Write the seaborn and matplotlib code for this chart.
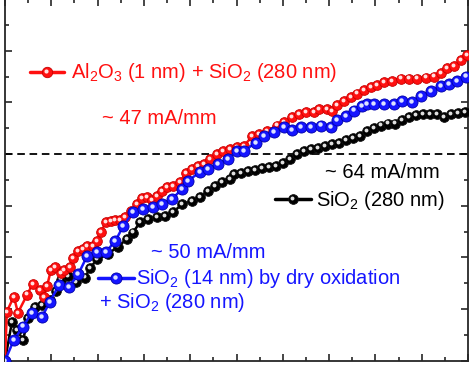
import numpy as np
import pandas as pd
import matplotlib
matplotlib.use("Agg")
import matplotlib.pyplot as plt
import seaborn as sns
from matplotlib.lines import Line2D
from matplotlib.transforms import offset_copy

# --- data (x in major-tick units, y in major-tick units) ---
red_x = [0.0, 0.04, 0.19, 0.28, 0.48, 0.60, 0.76, 0.84, 0.91, 0.99, 1.08, 1.21, 1.27, 1.40, 1.47,
         1.58, 1.69, 1.77, 1.90, 1.99, 2.07, 2.18, 2.29, 2.38, 2.48, 2.59, 2.72, 2.85, 2.96, 3.07,
         3.18, 3.28, 3.39, 3.50, 3.63, 3.78, 3.91, 4.04, 4.17, 4.30, 4.43, 4.58, 4.71, 4.86, 5.01,
         5.16, 5.34, 5.49, 5.66, 5.88, 6.03, 6.20, 6.35, 6.50, 6.67, 6.78, 6.95, 7.06, 7.17, 7.32,
         7.47, 7.60, 7.75, 7.91, 8.04, 8.19, 8.36, 8.55, 8.73, 8.90, 9.09, 9.27, 9.42, 9.55, 9.70,
         9.85, 9.98]
red_y = [0.0, 0.95, 1.24, 0.93, 1.28, 1.49, 1.37, 1.24, 1.45, 1.75, 1.81, 1.69, 1.76, 1.81, 1.98,
         2.12, 2.16, 2.22, 2.22, 2.32, 2.49, 2.68, 2.70, 2.72, 2.72, 2.78, 2.89, 3.03, 3.14, 3.16,
         3.11, 3.19, 3.28, 3.36, 3.38, 3.46, 3.63, 3.71, 3.77, 3.81, 3.91, 4.00, 4.06, 4.10, 4.14,
         4.16, 4.34, 4.39, 4.45, 4.55, 4.62, 4.72, 4.78, 4.82, 4.82, 4.87, 4.87, 4.83, 4.94, 5.03,
         5.11, 5.17, 5.23, 5.29, 5.34, 5.40, 5.42, 5.46, 5.46, 5.46, 5.48, 5.50, 5.56, 5.66, 5.71,
         5.81, 5.91]

blue_x = [0.0, 0.19, 0.39, 0.58, 0.80, 0.97, 1.17, 1.38, 1.58, 1.77, 1.99, 2.18, 2.38, 2.55, 2.76,
          2.98, 3.20, 3.39, 3.61, 3.82, 3.95, 4.21, 4.38, 4.60, 4.82, 5.01, 5.16, 5.42, 5.59, 5.81,
          6.03, 6.20, 6.39, 6.61, 6.83, 7.04, 7.17, 7.37, 7.54, 7.71, 7.82, 7.97, 8.19, 8.40, 8.57,
          8.79, 8.98, 9.20, 9.42, 9.59, 9.76, 9.96]
blue_y = [0.0, 0.40, 0.66, 0.93, 0.85, 1.14, 1.47, 1.43, 1.67, 2.02, 2.10, 2.11, 2.31, 2.60, 2.87,
          2.93, 2.97, 3.03, 3.13, 3.32, 3.48, 3.65, 3.71, 3.81, 3.91, 4.06, 4.06, 4.22, 4.35, 4.43,
          4.53, 4.47, 4.53, 4.53, 4.55, 4.53, 4.65, 4.74, 4.84, 4.92, 4.97, 4.96, 4.97, 4.96, 5.03,
          5.01, 5.13, 5.21, 5.31, 5.35, 5.42, 5.50]

black_x = [0.0, 0.15, 0.26, 0.39, 0.50, 0.65, 0.80, 0.97, 1.10, 1.21, 1.36, 1.53, 1.73, 1.84, 1.99,
           2.22, 2.44, 2.63, 2.76, 2.92, 3.09, 3.28, 3.46, 3.63, 3.82, 4.04, 4.21, 4.38, 4.54, 4.69,
           4.86, 4.95, 5.10, 5.25, 5.40, 5.55, 5.70, 5.85, 6.00, 6.16, 6.31, 6.46, 6.61, 6.76, 6.91,
           7.06, 7.21, 7.37, 7.52, 7.67, 7.82, 7.97, 8.12, 8.27, 8.42, 8.57, 8.73, 8.88, 9.03, 9.18,
           9.33, 9.48, 9.63, 9.78, 9.94]
black_y = [0.0, 0.75, 0.60, 0.40, 0.83, 1.04, 1.08, 1.18, 1.34, 1.57, 1.63, 1.53, 1.61, 1.80, 1.96,
           2.06, 2.21, 2.35, 2.48, 2.68, 2.74, 2.78, 2.80, 2.87, 3.03, 3.09, 3.17, 3.28, 3.38, 3.46,
           3.52, 3.61, 3.63, 3.67, 3.69, 3.73, 3.75, 3.77, 3.83, 3.90, 4.00, 4.06, 4.10, 4.12, 4.16,
           4.20, 4.22, 4.27, 4.31, 4.35, 4.45, 4.51, 4.55, 4.59, 4.59, 4.66, 4.72, 4.76, 4.78, 4.78,
           4.78, 4.72, 4.78, 4.80, 4.82]

ref_level = 4.0

sns.set_style("ticks")
plt.rcParams['font.family'] = ['Liberation Sans', 'DejaVu Sans']
plt.rcParams['mathtext.fontset'] = 'custom'
plt.rcParams['mathtext.rm'] = 'Liberation Sans'
plt.rcParams['mathtext.it'] = 'Liberation Sans:italic'
plt.rcParams['mathtext.bf'] = 'Liberation Sans:bold'

W, H = 474, 366
fig = plt.figure(figsize=(W / 100, H / 100), dpi=100)
ax = fig.add_axes([5 / W, 5.3 / H, 463 / W, 361.7 / H])

series = [
    (black_x, black_y, "black", "#111111", 7.0, "#e0e0e0"),
    (red_x, red_y, "#ff1010", "#c80000", 7.0, "#ffe0e0"),
    (blue_x, blue_y, "#1515ff", "#0000a8", 8.0, "#dde3ff"),
]

hl = offset_copy(ax.transData, fig=fig, x=-0.8, y=0.8, units='points')
for xs, ys, col, edge, ms, hcol in series:
    df = pd.DataFrame({"x": xs, "y": ys})
    sns.lineplot(data=df, x="x", y="y", sort=False, color=col, lw=1.8, marker="o",
                 markersize=ms, markerfacecolor=col, markeredgecolor=edge, markeredgewidth=0.6,
                 ax=ax, zorder=3)
    ax.plot(df["x"], df["y"], ls="none", marker="o", ms=ms * 0.4, mfc=hcol, mec="none",
            transform=hl, zorder=3)

ax.axhline(ref_level, color="black", lw=1.3, ls=(0, (4.2, 2.6)), zorder=2)

ax.set_xlim(0, 10)
ax.set_ylim(0, 7)
ax.set_xticks(np.arange(0, 11, 1))
ax.set_xticks(np.arange(0.5, 10, 1), minor=True)
ax.set_yticks(np.arange(0, 8, 1))
ax.set_yticks(np.arange(0.5, 7, 1), minor=True)
ax.tick_params(which="both", direction="in", top=True, right=True,
               labelbottom=False, labelleft=False, width=1.2)
ax.tick_params(which="major", length=5)
ax.tick_params(which="minor", length=2.6)
ax.set_xlabel("")
ax.set_ylabel("")
for sp in ax.spines.values():
    sp.set_linewidth(1.3)

fs = 14.5


def px(x, y):
    return x / W, 1 - y / H


def handle(x0, x1, y, col, edge, ms, hcol):
    xa, ya = px(x0, y)
    xb, _ = px(x1, y)
    fig.add_artist(Line2D([xa, xb], [ya, ya], transform=fig.transFigure, color=col, lw=2.5))
    xm, _ = px((x0 + x1) / 2, y)
    fig.add_artist(Line2D([xm], [ya], transform=fig.transFigure, marker="o", ms=ms,
                          mfc=col, mec=edge, mew=0.6, ls="none"))
    fig.add_artist(Line2D([xm], [ya], transform=offset_copy(fig.transFigure, fig=fig, x=-0.8, y=0.8,
                                                             units='points'),
                          marker="o", ms=ms * 0.4, mfc=hcol, mec="none", ls="none"))


handle(30, 64, 72, "#ff1010", "#c80000", 7.5, "#ffe0e0")
handle(98, 134, 278, "#1515ff", "#0000a8", 8, "#dde3ff")
handle(275, 311, 199, "black", "#111111", 7, "#e0e0e0")

red_c, blue_c = "#ff1010", "#1515ff"
fig.text(*px(71, 73), r"Al$_2$O$_3$ (1 nm) + SiO$_2$ (280 nm)", color=red_c, fontsize=fs,
         ha="left", va="center")
fig.text(*px(102, 118), "~ 47 mA/mm", color=red_c, fontsize=fs, ha="left", va="center")
fig.text(*px(325, 173), "~ 64 mA/mm", color="black", fontsize=fs, ha="left", va="center")
fig.text(*px(316, 200), r"SiO$_2$ (280 nm)", color="black", fontsize=fs, ha="left", va="center")
fig.text(*px(151, 252), "~ 50 mA/mm", color=blue_c, fontsize=fs, ha="left", va="center")
fig.text(*px(136, 278), r"SiO$_2$ (14 nm) by dry oxidation", color=blue_c, fontsize=fs,
         ha="left", va="center")
fig.text(*px(99, 303), r"+ SiO$_2$ (280 nm)", color=blue_c, fontsize=fs, ha="left", va="center")

fig.savefig("out.png", dpi=100)
